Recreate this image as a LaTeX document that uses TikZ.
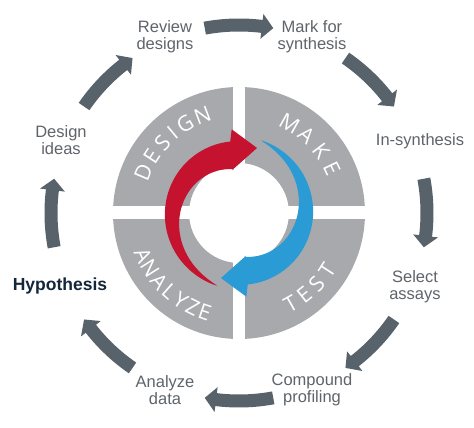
\documentclass[tikz,border=0pt]{standalone}
\usepackage{fontspec}
\setmainfont{Liberation Sans}
\newfontfamily\ringfont{Open Sans}
\definecolor{ringgray}{HTML}{A7A9AC}
\definecolor{arrowgray}{HTML}{58626A}
\definecolor{swred}{HTML}{C4122F}
\definecolor{swblue}{HTML}{2A9BD5}
\definecolor{lblgray}{HTML}{5E646A}
\definecolor{hypnavy}{HTML}{13263A}
\tikzset{
  lbl/.style={align=center, text=lblgray, inner sep=0pt, font=\fontsize{16.5}{17}\selectfont},
  hyp/.style={text=hypnavy, inner sep=0pt, font=\bfseries\fontsize{17.5}{18}\selectfont},
  ringletter/.style={text=white, inner sep=0pt, font=\ringfont\fontsize{21.5}{22}\selectfont},
}
\begin{document}
\begin{tikzpicture}[x=1pt,y=1pt]
\useasboundingbox (-239,-215) rectangle (235,213);
% ring
\fill[ringgray, even odd rule] (0,0) circle (126) (0,0) circle (50);
\fill[white] (-6,-130) rectangle (6,130);
\fill[white] (-130,-6.5) rectangle (130,6.5);
% ring letters
\foreach \l/\a [count=\i] in {D/157,E/147,S/137.5,I/129.8,G/121.3,N/110.5}
  \node[ringletter, rotate=\a-90] (des\i) at (\a:104) {\l};
\foreach \l/\a [count=\i] in {M/60.5,A/49,K/37.2,E/25.6}
  \node[ringletter, rotate=\a-90] (mak\i) at (\a:103) {\l};
\foreach \l/\a [count=\i] in {A/204,N/212,A/220.5,L/228.5,Y/236.3,Z/243.8,E/251}
  \node[ringletter, rotate=\a+90] (ana\i) at (\a:105) {\l};
\foreach \l/\a [count=\i] in {T/-60.5,E/-51.5,S/-42.3,T/-33}
  \node[ringletter, rotate=\a+90] (tes\i) at (\a:105) {\l};
% blue swoosh (red rotated by 180)
\begin{scope}[rotate=180]
\fill[swblue] plot[domain=253:97,samples=80,variable=\t] (\t:{72+4*(\t-97)/156})
  -- (95:84) -- (74.5:67.5) -- (99:43.5)
  -- plot[domain=97:253,samples=80,variable=\t] (\t:{72+4*(\t-97)/156-28*((253.2-\t)/156.2)^0.8}) -- cycle;
\end{scope}
% red swoosh
\fill[swred] plot[domain=253:97,samples=80,variable=\t] (\t:{72+4*(\t-97)/156})
  -- (95:84) -- (74.5:67.5) -- (99:43.5)
  -- plot[domain=97:253,samples=80,variable=\t] (\t:{72+4*(\t-97)/156-28*((253.2-\t)/156.2)^0.8}) -- cycle;
% outer gray arrows
\foreach \c in {90,45,0,-45,-90,-135,180,135}
  \fill[arrowgray] ({\c+10.5}:194.5) arc[start angle={\c+10.5}, end angle={\c-7}, radius=194.5]
    -- ({\c-7}:200.5) -- ({\c-10.5}:188) -- ({\c-7}:175.5) -- ({\c-7}:181.5)
    arc[start angle={\c-7}, end angle={\c+10.5}, radius=181.5] -- cycle;
% labels
\node[lbl] (review) at (-74,176.5) {Review\\designs};
\node[lbl] (mark) at (73,176.5) {Mark for\\synthesis};
\node[lbl] (insyn) at (181,72) {In-synthesis};
\node[lbl] (select) at (176,-73.5) {Select\\assays};
\node[lbl] (compound) at (73,-177) {Compound\\profiling};
\node[lbl] (analyze) at (-74,-177) {Analyze\\data};
\node[hyp] (hypothesis) at (-179,-73) {Hypothesis};
\node[lbl] (ideas) at (-178,72.5) {Design\\ideas};
\end{tikzpicture}
\end{document}
